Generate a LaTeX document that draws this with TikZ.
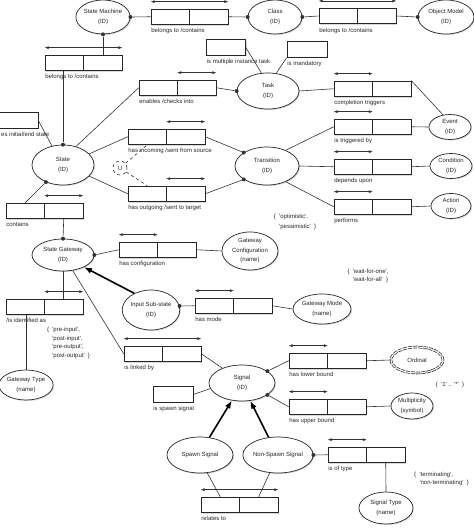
\documentclass[tikz,border=0pt]{standalone}
\usepackage{fontspec}
\setmainfont{Liberation Sans}
\usepackage{tikz}
\usetikzlibrary{shapes,arrows.meta,shadows}
\newcommand{\valq}[1]{\textquotesingle#1\textquotesingle}

\begin{document}
\begin{tikzpicture}[x=1pt, y=-1pt,
				every node/.style={font=\fontsize{6}{10}\selectfont, text=black!85},
				entity/.style={ellipse, draw=black!85, fill=white, line width=0.7pt, inner sep=0pt, align=center, drop shadow={shadow xshift=1pt, shadow yshift=-1pt, opacity=0.3}},
				role/.style={rectangle, draw=black!85, fill=white, line width=0.7pt, inner sep=0pt, minimum width=38.5pt, minimum height=15.5pt, drop shadow={shadow xshift=1.2pt, shadow yshift=-1.2pt, opacity=0.3}},
				lbl/.style={anchor=north west, inner sep=0.5pt, yshift=-3pt},
				dot/.style={circle, fill=black!80, inner sep=0pt, minimum size=4pt},
				link/.style={draw=black!80, line width=0.6pt},
				uniq/.style={{Latex[length=4pt,width=3pt]}-{Latex[length=4pt,width=3pt]}, draw=black!80, line width=0.6pt},
				subtype/.style={-{Latex[length=8pt,width=6pt]}, draw=black, line width=1.6pt},
				note/.style={align=left, inner sep=0pt}]

					\useasboundingbox (0,0) rectangle (474,528);

					% object types
					\node[entity, minimum width=50pt, minimum height=34pt] (sm) at (103,17) {State Machine\\(ID)};
					\node[entity, minimum width=54pt, minimum height=34pt] (cls) at (275,17) {Class\\(ID)};
					\node[entity, minimum width=56pt, minimum height=34pt] (om) at (446,17) {Object Model\\(ID)};
					\node[entity, minimum width=62pt, minimum height=36pt] (task) at (268,91) {Task\\(ID)};
					\node[entity, minimum width=62pt, minimum height=40pt] (state) at (63,165) {State\\(ID)};
					\node[entity, minimum width=64pt, minimum height=38pt] (trans) at (267,166) {Transition\\(ID)};
					\node[entity, minimum width=42pt, minimum height=25pt] (event) at (450,127) {Event\\(ID)};
					\node[entity, minimum width=42pt, minimum height=25pt] (cond) at (451,166) {Condition\\(ID)};
					\node[entity, minimum width=40pt, minimum height=25pt] (action) at (451,206) {Action\\(ID)};
					\node[entity, minimum width=62pt, minimum height=32pt] (sg) at (63,255) {State Gateway\\(ID)};
					\node[entity, minimum width=56pt, minimum height=38pt, font=\fontsize{6}{9.5}\selectfont] (gconf) at (250,251) {Gateway\\Configuration\\(name)};
					\node[entity, minimum width=56pt, minimum height=40pt] (isub) at (151,310) {Input Sub-state\\(ID)};
					\node[entity, minimum width=58pt, minimum height=30pt] (gmode) at (322,309) {Gateway Mode\\(name)};
					\node[entity, minimum width=54pt, minimum height=30pt] (gtype) at (26,385) {Gateway Type\\(name)};
					\node[entity, minimum width=66pt, minimum height=36pt] (sig) at (242,383) {Signal\\(ID)};
					\node[entity, minimum width=52pt, minimum height=26pt, double, double distance=1.2pt, dash pattern=on 4pt off 1.2pt] (ord) at (417,360) {Ordinal};
					\node[entity, minimum width=42pt, minimum height=26pt] (mult) at (412,406) {Multiplicity\\(symbol)};
					\node[entity, minimum width=66pt, minimum height=36pt] (spawn) at (200,455) {Spawn Signal};
					\node[entity, minimum width=68pt, minimum height=36pt] (nspawn) at (278,455) {Non-Spawn Signal};
					\node[entity, minimum width=54pt, minimum height=32pt] (stype) at (386,508) {Signal Type\\(name)};

					% fact types
					\node[role] (smcL) at (170.25,16.75) {};
					\node[role] (smcR) at (208.75,16.75) {};
					\node[role] (cmoL) at (338.25,16) {};
					\node[role] (cmoR) at (376.75,16) {};
					\node[role] (smstL) at (64.25,62.75) {};
					\node[role] (smstR) at (102.75,62.75) {};
					\node[role] (enabL) at (158.25,87.75) {};
					\node[role] (enabR) at (196.75,87.75) {};
					\node[role] (ctrigL) at (353.25,88.75) {};
					\node[role] (ctrigR) at (391.75,88.75) {};
					\node[role] (trigL) at (353.25,126.75) {};
					\node[role] (trigR) at (391.75,126.75) {};
					\node[role] (depL) at (353.25,166.75) {};
					\node[role] (depR) at (391.75,166.75) {};
					\node[role] (perfL) at (353.25,206.75) {};
					\node[role] (perfR) at (391.75,206.75) {};
					\node[role] (incL) at (147.25,136.75) {};
					\node[role] (incR) at (185.75,136.75) {};
					\node[role] (outgL) at (147.25,193.75) {};
					\node[role] (outgR) at (185.75,193.75) {};
					\node[role] (contL) at (25.25,210.75) {};
					\node[role] (contR) at (63.75,210.75) {};
					\node[role] (hconfL) at (138.25,249.75) {};
					\node[role] (hconfR) at (176.75,249.75) {};
					\node[role] (hmodeL) at (214.25,305.75) {};
					\node[role] (hmodeR) at (252.75,305.75) {};
					\node[role] (identL) at (25.25,306.75) {};
					\node[role] (identR) at (63.75,306.75) {};
					\node[role] (linkL) at (143.25,353.75) {};
					\node[role] (linkR) at (181.75,353.75) {};
					\node[role] (lowbL) at (308.25,360.75) {};
					\node[role] (lowbR) at (346.75,360.75) {};
					\node[role] (uppbL) at (308.25,406.75) {};
					\node[role] (uppbR) at (346.75,406.75) {};
					\node[role] (otypeL) at (347.25,454.75) {};
					\node[role] (otypeR) at (385.75,454.75) {};
					\node[role] (relL) at (220.25,504.75) {};
					\node[role] (relR) at (258.75,504.75) {};
					\node[role, minimum width=39pt] (mit) at (226,47.5) {};
					\node[role, minimum width=40pt] (mand) at (307,49.5) {};
					\node[role, minimum width=40pt] (ies) at (18,120.5) {};
					\node[role, minimum width=40pt] (spn) at (173,394.5) {};

					% readings
					\node[lbl] (smcT) at (smcL.south west) {belongs to /contains};
					\node[lbl] (cmoT) at (cmoL.south west) {belongs to /contains};
					\node[lbl] (smstT) at (smstL.south west) {belongs to /contains};
					\node[lbl] (enabT) at (enabL.south west) {enables /checks into};
					\node[lbl] (ctrigT) at (ctrigL.south west) {completion triggers};
					\node[lbl] (trigT) at (trigL.south west) {is triggered by};
					\node[lbl] (depT) at (depL.south west) {depends upon};
					\node[lbl] (perfT) at (perfL.south west) {performs};
					\node[lbl] (incT) at (incL.south west) {has incoming /sent from source};
					\node[lbl] (outgT) at (outgL.south west) {has outgoing /sent to target};
					\node[lbl] (contT) at (contL.south west) {contains};
					\node[lbl] (hconfT) at (hconfL.south west) {has configuration};
					\node[lbl] (hmodeT) at (hmodeL.south west) {has mode};
					\node[lbl] (identT) at (identL.south west) {/is identified as};
					\node[lbl] (linkT) at (linkL.south west) {is linked by};
					\node[lbl] (lowbT) at (lowbL.south west) {has lower bound};
					\node[lbl] (uppbT) at (uppbL.south west) {has upper bound};
					\node[lbl] (otypeT) at (otypeL.south west) {is of type};
					\node[lbl] (relT) at (relL.south west) {relates to};
					\node[lbl] (mitT) at (mit.south west) {is multiple instance task};
					\node[lbl] (mandT) at (mand.south west) {is mandatory};
					\node[lbl] (iesT) at (0.5,128) {es initial/end state};
					\node[lbl] (spnT) at (spn.south west) {is spawn signal};

					% uniqueness
					\draw[uniq] ([yshift=7pt]smcL.north west) -- ([yshift=7pt]smcR.north east);
					\draw[uniq] ([yshift=7pt]cmoL.north west) -- ([yshift=7pt]cmoR.north east);
					\draw[uniq] ([yshift=7pt]smstL.north west) -- ([yshift=7pt]smstR.north east);
					\draw[uniq] ([yshift=7pt]enabR.north west) -- ([yshift=7pt]enabR.north east);
					\draw[uniq] ([yshift=7pt]ctrigL.north west) -- ([yshift=7pt]ctrigL.north east);
					\draw[uniq] ([yshift=7pt]trigL.north west) -- ([yshift=7pt]trigL.north east);
					\draw[uniq] ([yshift=7pt]depL.north west) -- ([yshift=7pt]depL.north east);
					\draw[uniq] ([yshift=7pt]perfL.north west) -- ([yshift=7pt]perfL.north east);
					\draw[uniq] ([yshift=7pt]incR.north west) -- ([yshift=7pt]incR.north east);
					\draw[uniq] ([yshift=7pt]outgR.north west) -- ([yshift=7pt]outgR.north east);
					\draw[uniq] ([yshift=7pt]contR.north west) -- ([yshift=7pt]contR.north east);
					\draw[uniq] ([yshift=7pt]hconfL.north west) -- ([yshift=7pt]hconfL.north east);
					\draw[uniq] ([yshift=7pt]hmodeL.north west) -- ([yshift=7pt]hmodeL.north east);
					\draw[uniq] ([yshift=7pt]identR.north west) -- ([yshift=7pt]identR.north east);
					\draw[uniq] ([yshift=7pt]linkL.north west) -- ([yshift=7pt]linkR.north east);
					\draw[uniq] ([yshift=7pt]lowbL.north west) -- ([yshift=7pt]lowbL.north east);
					\draw[uniq] ([yshift=7pt]uppbL.north west) -- ([yshift=7pt]uppbL.north east);
					\draw[uniq] ([yshift=7pt]otypeL.north west) -- ([yshift=7pt]otypeL.north east);
					\draw[uniq] ([yshift=7pt]relL.north west) -- ([yshift=7pt]relR.north east);

					% mandatory dots
					\node[dot] (smd1) at (sm.east) {};
					\node[dot] (smd2) at (sm.south) {};
					\node[dot] (clsd1) at (cls.west) {};
					\node[dot] (clsd2) at (cls.east) {};
					\node[dot] (omd) at (om.west) {};
					\node[dot] (taskd) at (task.west) {};
					\node[dot] (stated1) at (state.north) {};
					\node[dot] (stated2) at (state.-135) {};
					\node[dot] (transd1) at (trans.150) {};
					\node[dot] (transd2) at (trans.-150) {};
					\node[dot] (sgd1) at (sg.north) {};
					\node[dot] (sgd2) at (sg.east) {};
					\node[dot] (isubd) at (isub.8) {};
					\node[dot] (sigd1) at (sig.25) {};
					\node[dot] (sigd2) at (sig.-25) {};
					\node[dot] (nspawnd) at (nspawn.east) {};

					\node[circle, draw=black!80, dashed, line width=0.6pt, minimum size=14pt, inner sep=0pt] (excl) at (120,168) {U};

					% connectors
					\draw[link] (smd1) -- (smcL.west);
					\draw[link] (smcR.east) -- (clsd1);
					\draw[link] (clsd2) -- (cmoL.west);
					\draw[link] (cmoR.east) -- (omd);
					\draw[link] (smd2) -- (smd2 |- smstR.north);
					\draw[link] (stated1 |- smstL.south) -- (stated1);
					\draw[link] (mit.east) -- (task.110);
					\draw[link] (mand.south west) -- (task.65);
					\draw[link] (taskd) -- (enabR.east);
					\draw[link] (enabL.west) -- (state.55);
					\draw[link] (task.east) -- (ctrigL.west);
					\draw[link] (ctrigR.north east) -- (event.120);
					\draw[link] (trigR.east) -- (event.west);
					\draw[link] (trans.40) -- (trigL.west);
					\draw[link] (trans.east) -- (depL.west);
					\draw[link] (depR.east) -- (cond.west);
					\draw[link] (trans.-40) -- (perfL.west);
					\draw[link] (perfR.east) -- (action.west);
					\draw[link] (state.23) -- (incL.west);
					\draw[link] (incR.east) -- (transd1);
					\draw[link] (state.-23) -- (outgL.west);
					\draw[link] (outgR.east) -- (transd2);
					\draw[link, dashed] (excl) -- (incL.south);
					\draw[link, dashed] (excl) -- (outgL.north);
					\draw[link] (ies.east) -- (state.120);
					\draw[link] (stated2) -- (contL.north);
					\draw[link] (contR.south) -- (sgd1);
					\draw[link] (sgd2) -- (hconfL.west);
					\draw[link] (hconfR.east) -- (gconf.west);
					\draw[link] (sg.south) -- (sg.south |- identR.north);
					\draw[link] (gtype.north |- identL.south) -- (gtype.north);
					\draw[subtype] (isub.135) -- (sg.-30);
					\draw[link] (isubd) -- (hmodeL.west);
					\draw[link] (hmodeR.east) -- (gmode.west);
					\draw[link] (sg.-58) -- (linkL.west);
					\draw[link] (linkR.east) -- (sig.143);
					\draw[link] (sigd1) -- (lowbL.west);
					\draw[link] (lowbR.east) -- (ord.west);
					\draw[link] (sigd2) -- (uppbL.west);
					\draw[link] (uppbR.east) -- (mult.west);
					\draw[link] (spn.east) -- (sig.190);
					\draw[subtype] (spawn.62) -- (sig.-120);
					\draw[subtype] (nspawn.118) -- (sig.-65);
					\draw[link] (nspawnd) -- (otypeL.west);
					\draw[link] (otypeR.south) -- (stype.north);
					\draw[link] (spawn.-68) -- (relL.north);
					\draw[link] (nspawn.-115) -- (relR.north);

					% value constraints
					\node[note] (optv) at (295,222) {\{\ \ \valq{optimistic},\\\phantom{\{\ \ }\valq{pessimistic}\ \ \}};
					\node[note, font=\fontsize{6}{7.5}\selectfont] (waitv) at (368,276) {\{\ \ \valq{wait-for-one},\\\phantom{\{\ \ }\valq{wait-for-all}\ \ \}};
					\node[note, font=\fontsize{6}{8.7}\selectfont] (prev) at (68.5,343) {\{\ \ \valq{pre-input},\\\phantom{\{\ \ }\valq{post-input},\\\phantom{\{\ \ }\valq{pre-output},\\\phantom{\{\ \ }\valq{post-output}\ \ \}};
					\node[note] (multv) at (450,385) {\{\ \ \valq{1} .. \valq{*}\ \ \}};
					\node[note, font=\fontsize{6}{8}\selectfont] (termv) at (441.5,479) {\{\ \ \valq{terminating},\\\phantom{\{\ \ }\valq{non-terminating}\ \ \}};
				\end{tikzpicture}
\end{document}
